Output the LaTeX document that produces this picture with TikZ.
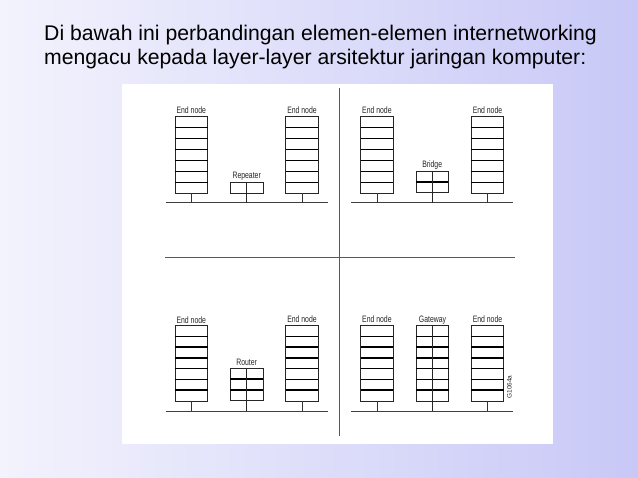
\documentclass[tikz,border=0pt]{standalone}
\usepackage{fontspec}
\setmainfont{Liberation Sans}
\begin{document}
\begin{tikzpicture}[x=1pt,y=-1pt,
  stackbox/.style={draw=black!85,line width=0.8pt,fill=white,minimum width=32.5pt,inner sep=0pt,outer sep=0pt},
  layerline/.style={draw=black,line width=1.6pt},
  splitline/.style={draw=black!85,line width=0.8pt},
  busline/.style={draw=black!75,line width=1pt},
  stemline/.style={draw=black!80,line width=0.8pt},
  divider/.style={draw=black!65,line width=1pt},
  lbl/.style={font=\fontsize{9.3}{10}\selectfont,inner sep=0pt,anchor=base,xscale=0.74,transform shape,text=black!85},
  titletext/.style={font=\fontsize{21.2}{24}\selectfont,inner sep=0pt,anchor=base west}]
\useasboundingbox (0,0) rectangle (638,478);
\shade[left color={rgb,255:red,243;green,243;blue,253},right color={rgb,255:red,200;green,200;blue,247}] (0,0) rectangle (638,478);
\fill[white] (122,84) rectangle (553,444);

\node[titletext] (t1) at (44,41) {Di bawah ini perbandingan elemen-elemen internetworking};
\node[titletext] (t2) at (44,64.5) {mengacu kepada layer-layer arsitektur jaringan komputer:};

% dividers
\coordinate (vt) at (339,88);
\coordinate (vb) at (339,436);
\coordinate (hl) at (165,257.7);
\coordinate (hr) at (515,257.7);
\draw[divider] (vt) -- (vb);
\draw[divider] (hl) -- (hr);

% stack macro: name, x center, y top, number of cells, cell height
\newcommand{\layerstack}[5]{%
  \node[stackbox,minimum height=#4*#5pt,anchor=north] (#1) at (#2,#3) {};
  \pgfmathtruncatemacro{\lastk}{#4-1}%
  \ifnum\lastk>0
  \foreach \k in {1,...,\lastk}{\draw[layerline] ([yshift=-\k*#5pt]#1.north west) -- ([yshift=-\k*#5pt]#1.north east);}%
  \fi
}

% ---------- top left: repeater ----------
\layerstack{a1}{191.3}{116.7}{7}{10.95}
\layerstack{ar}{246.7}{182.3}{1}{10.95}
\layerstack{a2}{302}{116.7}{7}{10.95}
\node[lbl] (la1) at (191.3,113.5) {End node};
\node[lbl] (la2) at (302,113.5) {End node};
\node[lbl] (lar) at (246.7,179) {Repeater};
\coordinate (abl) at (165.7,202.7);
\coordinate (abr) at (328.3,202.7);
\draw[busline] (abl) -- (abr);
\coordinate (a1b) at (191.3,202.7);
\coordinate (arb) at (246.7,202.7);
\coordinate (a2b) at (302,202.7);
\draw[stemline] (a1.south) -- (a1b);
\draw[stemline] (a2.south) -- (a2b);
\draw[splitline] (ar.north) -- (arb);

% ---------- top right: bridge ----------
\layerstack{b1}{376.9}{116.7}{7}{10.95}
\layerstack{br}{432.2}{171}{2}{10.95}
\layerstack{b2}{487.5}{116.7}{7}{10.95}
\node[lbl] (lb1) at (376.9,113.5) {End node};
\node[lbl] (lb2) at (487.5,113.5) {End node};
\node[lbl] (lbr) at (432.2,167.3) {Bridge};
\coordinate (bbl) at (351,202.7);
\coordinate (bbr) at (513.3,202.7);
\draw[busline] (bbl) -- (bbr);
\coordinate (b1b) at (376.9,202.7);
\coordinate (brb) at (432.2,202.7);
\coordinate (b2b) at (487.5,202.7);
\draw[stemline] (b1.south) -- (b1b);
\draw[stemline] (b2.south) -- (b2b);
\draw[splitline] (br.north) -- (brb);

% ---------- bottom left: router ----------
\layerstack{c1}{191.3}{325.7}{7}{10.75}
\layerstack{cr}{246.7}{368.5}{3}{10.75}
\layerstack{c2}{302}{325.7}{7}{10.75}
\node[lbl] (lc1) at (191.3,323.8) {End node};
\node[lbl] (lc2) at (302,322.8) {End node};
\node[lbl] (lcr) at (246.7,366) {Router};
\coordinate (cbl) at (165.7,411.3);
\coordinate (cbr) at (328.3,411.3);
\draw[busline] (cbl) -- (cbr);
\coordinate (c1b) at (191.3,411.3);
\coordinate (crb) at (246.7,411.3);
\coordinate (c2b) at (302,411.3);
\draw[stemline] (c1.south) -- (c1b);
\draw[stemline] (c2.south) -- (c2b);
\draw[splitline] (cr.north) -- (crb);

% ---------- bottom right: gateway ----------
\layerstack{d1}{376.9}{325.7}{7}{10.75}
\layerstack{dg}{432.5}{325.7}{7}{10.75}
\layerstack{d2}{487.5}{325.7}{7}{10.75}
\node[lbl] (ld1) at (376.9,322.8) {End node};
\node[lbl] (ld2) at (487.5,322.8) {End node};
\node[lbl] (ldg) at (432.5,322.8) {Gateway};
\coordinate (dbl) at (351,411.3);
\coordinate (dbr) at (513.3,411.3);
\draw[busline] (dbl) -- (dbr);
\coordinate (d1b) at (376.9,411.3);
\coordinate (dgb) at (432.5,411.3);
\coordinate (d2b) at (487.5,411.3);
\draw[stemline] (d1.south) -- (d1b);
\draw[stemline] (d2.south) -- (d2b);
\draw[splitline] (dg.north) -- (dgb);
\node[font=\fontsize{6.5}{7}\selectfont,rotate=90,inner sep=0pt,text=black!85] (fig) at (509.5,387) {G1064a};
\end{tikzpicture}
\end{document}
